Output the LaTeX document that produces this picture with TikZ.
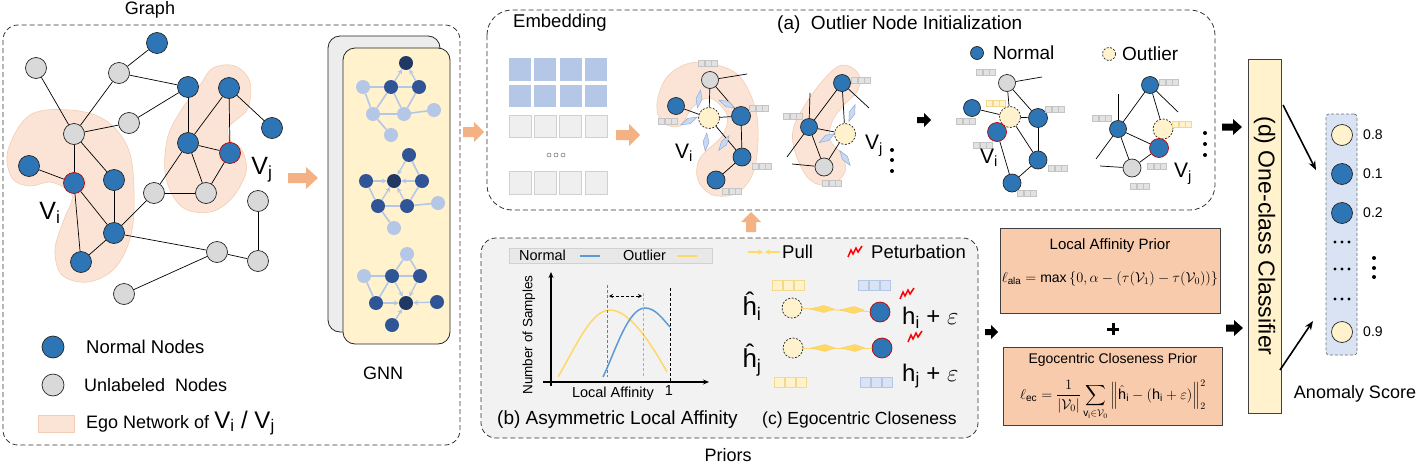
\documentclass[tikz,border=0pt]{standalone}
\usepackage{fontspec}
\setmainfont{Liberation Sans}
\usepackage{amsmath}
\usetikzlibrary{arrows.meta}
\newcommand\fsz[1]{\fontsize{#1}{#1}\selectfont}
\definecolor{nblue}{HTML}{2E75B6}
\definecolor{ngray}{HTML}{D9D9D9}
\definecolor{nyel}{HTML}{FFF2CC}
\definecolor{egoc}{HTML}{FBE4D5}
\definecolor{egoe}{HTML}{F3CDB3}
\definecolor{oarr}{HTML}{F4B183}
\definecolor{embb}{HTML}{B4C7E7}
\definecolor{embg}{HTML}{EFEFEF}
\definecolor{embge}{HTML}{D0D0D0}
\definecolor{glc}{HTML}{B4C7E7}
\definecolor{gdc}{HTML}{2F5597}
\definecolor{gkc}{HTML}{1F3864}
\definecolor{priorbg}{HTML}{F2F2F2}
\definecolor{formbg}{HTML}{F8CBAD}
\definecolor{scorebg}{HTML}{DAE3F3}
\definecolor{cblue}{HTML}{5B9BD5}
\definecolor{cyel}{HTML}{FFD966}
\definecolor{kitef}{HTML}{C9D9F0}
\definecolor{kitee}{HTML}{8FAADC}
\definecolor{redb}{HTML}{C00000}
\definecolor{tinyg}{HTML}{E2E2E2}
\definecolor{tinyge}{HTML}{C4C4C4}
\definecolor{tinyy}{HTML}{FFF2CC}
\definecolor{tinyye}{HTML}{F2D98C}
\definecolor{tinyb}{HTML}{DAE3F3}
\definecolor{tinybe}{HTML}{B4C7E7}
\newcommand\tinyemb[3]{\foreach \k in {0,1,2}{\filldraw[fill=#3, draw=#3e, line width=0.4pt] ({#1-10+\k*6.8},{#2-3}) rectangle ++(6,6);}}
\newcommand\bigemb[3]{\foreach \k in {0,1,2}{\filldraw[fill=#3, draw=#3e, line width=0.5pt] ({#1-16+\k*11},{#2-5}) rectangle ++(10,10);}}
\newcommand\kite[3]{\filldraw[fill=kitef, draw=kitee, line width=0.5pt, shift={(#1,#2)}, rotate=#3] (-9,0) -- (0,-3) -- (9,0) -- (0,3) -- cycle;}
\newcommand\ykite[2]{\filldraw[fill=cyel, draw=cyel!80!orange, line width=0.3pt, shift={(#1,#2)}] (-12,0) -- (2,-3.5) -- (12,0) -- (2,3.5) -- cycle;}
\newcommand\zz[2]{\draw[red, line width=1.5pt, shift={(#1,#2)}] (-7,4) -- (-4,-3) -- (-2,1) -- (1,-5) -- (3,-1) -- (7,-7);}
\begin{document}
\begin{tikzpicture}[x=1pt, y=-1pt,
  nd/.style={circle, inner sep=0pt, line width=0.7pt, draw=black!85},
  bn/.style={nd, fill=nblue, minimum size=#1}, bn/.default=21pt,
  gn/.style={nd, fill=ngray, minimum size=#1}, gn/.default=21pt,
  rn/.style={nd, fill=nblue, draw=redb, minimum size=#1}, rn/.default=21pt,
  yn/.style={nd, fill=nyel, dash pattern=on 2pt off 1.5pt, minimum size=#1}, yn/.default=20pt,
  lnk/.style={line width=0.7pt, black},
  gl/.style={circle, inner sep=0pt, minimum size=14pt, fill=glc},
  gd/.style={gl, fill=gdc},
  gk/.style={gl, fill=gkc},
  gline/.style={draw=glc, line width=1.6pt},
  garr/.style={draw=glc, line width=1.3pt, -{Stealth[length=5pt,width=5pt]}},
  dbox/.style={draw=black!80, dash pattern=on 5pt off 3pt, line width=0.8pt},
  txt/.style={inner sep=0pt, font=\fsz{#1}},
  blob/.style={fill=egoc, draw=egoe, line width=0.6pt},
  karr/.style={line width=1.6pt, -{Stealth[length=9pt,width=7pt]}},
]
\useasboundingbox (0,0) rectangle (1418,466);

% ================= Left: Graph =================
\node[txt=18] (tgraph) at (150,10) {Graph};
\draw[dbox, rounded corners=15pt] (3,25) rectangle (460,445);

\filldraw[blob] plot[smooth cycle, tension=0.6] coordinates {(8,150) (30,115) (70,110) (105,120) (128,148) (134,190) (131,235) (115,268) (88,282) (62,275) (55,250) (63,222) (72,200) (68,190) (50,182) (30,186) (12,178)};
\filldraw[blob] plot[smooth cycle, tension=0.6] coordinates {(213,68) (235,66) (250,82) (248,108) (236,120) (228,128) (230,140) (242,150) (246,172) (232,198) (210,212) (182,207) (166,178) (167,140) (180,112) (200,85)};

\node[bn] (b1) at (157,43) {};
\node[gn] (g1) at (36,68) {};
\node[gn] (g2) at (119,73) {};
\node[bn] (b2) at (188,87) {};
\node[bn] (b3) at (229,88) {};
\node[bn] (b4) at (272,128) {};
\node[gn] (g3) at (129,123) {};
\node[gn] (g4) at (74,134) {};
\node[bn] (b5) at (188,143) {};
\node[rn] (rj) at (230,153) {};
\node[bn] (b6) at (29,166) {};
\node[rn] (ri) at (74,183) {};
\node[bn] (b7) at (114,180) {};
\node[gn] (g5) at (154,193) {};
\node[gn] (g6) at (206,193) {};
\node[gn] (g7) at (258,201) {};
\node[bn] (b8) at (114,233) {};
\node[gn] (g8) at (217,252) {};
\node[gn] (g9) at (258,261) {};
\node[bn] (b9) at (81,262) {};
\node[gn] (g10) at (124,294) {};
\foreach \a/\b in {b1/g2, g1/g4, g2/g4, g2/b2, g3/b2, g4/g3, g4/ri, g4/b7, b6/ri, ri/b8, ri/b9, b7/b8, b8/b9, b8/g5, b8/g8, g5/b5, g5/g6, b2/b5, b3/b5, b3/rj, b3/b4, b5/rj, b5/g6, rj/g6, g7/g9, g8/g9, g8/g10}
  \draw[lnk] (\a) -- (\b);
\node[txt=25] (lvi) at (50,213) {V\textsubscript{i}};
\node[txt=25] (lvj) at (262,170) {V\textsubscript{j}};

\node[bn=22pt] (legb) at (53,347) {};
\node[txt=18.5, anchor=west] (legbt) at (86,347) {Normal Nodes};
\node[gn=22pt] (legg) at (53,385) {};
\node[txt=18, anchor=west] (leggt) at (84,385) {Unlabeled~ Nodes};
\node[blob, minimum width=36pt, minimum height=17pt, inner sep=0pt] (lege) at (56,423.5) {};
\node[txt=18, anchor=west] (leget) at (86,423) {Ego Network of {\fsz{24}V\textsubscript{i} / V\textsubscript{j}}};

\fill[oarr] (288,173) -- (306,173) -- (306,167) -- (318,178) -- (306,189) -- (306,183) -- (288,183) -- cycle;

% ================= GNN =================
\filldraw[fill=black!7, draw=black!85, line width=0.8pt, rounded corners=12pt] (328,36) rectangle (440,332);
\filldraw[fill=nyel, draw=black!85, line width=0.8pt, rounded corners=12pt] (343,48) rectangle (450,344);
\node[txt=18] (tgnn) at (383,373) {GNN};

\node[gk] (n11) at (406,63) {};
\node[gd] (n12) at (391,87) {};
\node[gd] (n13) at (419,87) {};
\node[gl] (n14) at (363,87) {};
\node[gl] (n15) at (373,114) {};
\node[gl] (n16) at (404,114) {};
\node[gl] (n17) at (434,110) {};
\node[gl] (n18) at (391,135) {};
\foreach \a/\b in {n14/n12, n12/n13, n14/n15, n12/n15, n12/n16, n13/n16, n16/n17, n15/n16, n15/n18}
  \draw[gline] (\a) -- (\b);
\foreach \a in {n12, n13} \draw[garr] (\a) -- (n11);

\node[gd] (n21) at (409,155) {};
\node[gd] (n22) at (366,181) {};
\node[gk] (n23) at (394,181) {};
\node[gd] (n24) at (422,181) {};
\node[gd] (n25) at (378,206) {};
\node[gd] (n26) at (407,206) {};
\node[gl] (n27) at (438,203) {};
\node[gl] (n28) at (394,228) {};
\foreach \a/\b in {n22/n25, n25/n26, n26/n27, n24/n26, n21/n24, n25/n28}
  \draw[gline] (\a) -- (\b);
\foreach \a in {n21, n22, n24, n25, n26} \draw[garr] (\a) -- (n23);

\node[gl] (n31) at (407,254) {};
\node[gl] (n32) at (364,276) {};
\node[gd] (n33) at (392,276) {};
\node[gd] (n34) at (420,276) {};
\node[gd] (n35) at (376,303) {};
\node[gk] (n36) at (406,303) {};
\node[gd] (n37) at (437,302) {};
\node[gd] (n38) at (392,325) {};
\foreach \a/\b in {n31/n33, n31/n34, n32/n33, n33/n34, n32/n35, n33/n35}
  \draw[gline] (\a) -- (\b);
\foreach \a in {n33, n34, n35, n37, n38} \draw[garr] (\a) -- (n36);

\fill[oarr] (463,127) -- (474,127) -- (474,122) -- (484,132) -- (474,142) -- (474,137) -- (463,137) -- cycle;

% ================= (a) Outlier node initialization =================
\draw[dbox, rounded corners=25pt] (487,10) rectangle (1215,210);
\node[txt=18.5, anchor=west] (temb) at (513,23) {Embedding};
\node[txt=19, anchor=west] (ta) at (777,25) {(a)~ Outlier Node Initialization};

\foreach \cx in {520,545.3,570.6,596} {
  \fill[embb] (\cx-11,58) rectangle (\cx+11,81);
  \fill[embb] (\cx-11,85) rectangle (\cx+11,107);
  \filldraw[fill=embg, draw=embge, line width=0.5pt] (\cx-11,115) rectangle (\cx+11,137);
  \filldraw[fill=embg, draw=embge, line width=0.5pt] (\cx-11,171) rectangle (\cx+11,194);
}
\foreach \dx in {549,556,563} \draw[black!60, line width=0.5pt] (\dx,155) circle (2);

\fill[oarr] (616,130) -- (629,130) -- (629,124) -- (640,135) -- (629,146) -- (629,140) -- (616,140) -- cycle;

% ego Vi in (a)
\filldraw[blob] plot[smooth cycle, tension=0.6] coordinates {(657,103) (667,77) (690,63) (717,65) (740,77) (755,107) (758,140) (753,173) (737,193) (713,195) (698,180) (700,158) (722,136) (727,115) (710,98) (692,108) (680,126) (662,122)};
\node[gn=17pt] (a1g) at (710,80) {};
\node[bn=17pt] (a1l) at (676,106) {};
\node[yn=21pt] (a1y) at (709,118) {};
\node[bn=19pt] (a1b) at (741,116) {};
\node[bn=18pt] (a1c) at (742,157) {};
\node[bn=18pt] (a1d) at (716,180) {};
\coordinate (a1f) at (747,74);
\foreach \a/\b in {a1g/a1f, a1g/a1y, a1g/a1b, a1l/a1y, a1y/a1b, a1y/a1c, a1b/a1c, a1c/a1d}
  \draw[lnk] (\a) -- (\b);
\kite{699}{99}{80}
\kite{727}{104}{-25}
\kite{689}{121}{25}
\kite{706}{142}{85}
\kite{724}{143}{55}
\tinyemb{708}{63}{tinyg}
\tinyemb{668}{121}{tinyg}
\tinyemb{759}{108}{tinyg}
\tinyemb{762}{166}{tinyg}
\tinyemb{732}{191}{tinyg}
\node[txt=21] (avi) at (684,153) {V\textsubscript{i}};

% ego Vj in (a)
\filldraw[blob] plot[smooth cycle, tension=0.6] coordinates {(842,65) (858,73) (858,90) (843,106) (832,122) (830,140) (842,155) (845,172) (830,185) (810,180) (796,155) (793,130) (805,105) (825,78)};
\node[bn=17pt] (a2t) at (842,83) {};
\node[bn=17pt] (a2l) at (809,127) {};
\node[yn=21pt] (a2y) at (845,134) {};
\node[gn=18pt] (a2g) at (824,167) {};
\coordinate (a2f1) at (869,108);
\coordinate (a2f2) at (810,93);
\coordinate (a2f3) at (787,157);
\coordinate (a2f4) at (792,164);
\foreach \a/\b in {a2t/a2l, a2t/a2y, a2t/a2f1, a2l/a2f2, a2l/a2f3, a2l/a2y, a2l/a2g, a2g/a2f4, a2g/a2y}
  \draw[lnk] (\a) -- (\b);
\kite{852}{113}{70}
\kite{827}{138}{30}
\kite{845}{158}{-55}
\tinyemb{861}{80}{tinyg}
\tinyemb{793}{116}{tinyg}
\tinyemb{832}{183}{tinyg}
\node[txt=21] (avj) at (874,146) {V\textsubscript{j}};
\foreach \dy in {150,160,171} \fill (892,\dy) circle (2);

\fill (917,117) -- (924,117) -- (924,113) -- (931,120) -- (924,127) -- (924,123) -- (917,123) -- cycle;

% legend (a)
\node[bn=13pt] (lna) at (977,53) {};
\node[txt=19, anchor=west] (lnat) at (993,53) {Normal};
\node[yn=13pt] (loa) at (1109,54) {};
\node[txt=19, anchor=west] (loat) at (1122,54) {Outlier};

% final Vi
\node[gn=17pt] (f1g) at (1007,83) {};
\node[bn=17pt] (f1l) at (972,108) {};
\node[yn=21pt] (f1y) at (1010,117) {};
\node[rn=19pt] (f1r) at (997,132) {};
\node[bn=19pt] (f1b) at (1038,118) {};
\node[bn=18pt] (f1c) at (1038,160) {};
\node[bn=18pt] (f1d) at (1012,183) {};
\coordinate (f1f) at (1042,77);
\foreach \a/\b in {f1g/f1f, f1g/f1y, f1g/f1b, f1l/f1y, f1y/f1b, f1y/f1c, f1b/f1c, f1c/f1d, f1r/f1d}
  \draw[lnk] (\a) -- (\b);
\tinyemb{986}{72}{tinyg}
\tinyemb{996}{103}{tinyy}
\tinyemb{966}{121}{tinyg}
\tinyemb{1055}{109}{tinyg}
\tinyemb{983}{145}{tinyg}
\tinyemb{1058}{168}{tinyg}
\tinyemb{1027}{193}{tinyg}
\node[txt=21] (fvi) at (989,158) {V\textsubscript{i}};

% final Vj
\node[bn=17pt] (f2t) at (1150,85) {};
\node[bn=17pt] (f2l) at (1118,129) {};
\node[yn=20pt] (f2y) at (1163,129) {};
\node[rn=19pt] (f2r) at (1159,148) {};
\node[gn=18pt] (f2g) at (1132,168) {};
\coordinate (f2f1) at (1178,112);
\coordinate (f2f2) at (1118,94);
\coordinate (f2f3) at (1096,159);
\coordinate (f2f4) at (1100,166);
\foreach \a/\b in {f2t/f2l, f2t/f2y, f2t/f2f1, f2l/f2f2, f2l/f2f3, f2l/f2r, f2l/f2g, f2g/f2f4, f2g/f2r}
  \draw[lnk] (\a) -- (\b);
\tinyemb{1169}{82}{tinyg}
\tinyemb{1102}{118}{tinyg}
\tinyemb{1182}{124}{tinyy}
\tinyemb{1157}{166}{tinyg}
\tinyemb{1140}{186}{tinyg}
\node[txt=21] (fvj) at (1183,174) {V\textsubscript{j}};
\foreach \dy in {133,144,155} \fill (1205,\dy) circle (2);

% ================= Priors =================
\fill[oarr] (746,232) -- (746,222) -- (741,222) -- (751,212) -- (761,222) -- (756,222) -- (756,232) -- cycle;
\filldraw[fill=priorbg, dbox, rounded corners=15pt] (481,238) rectangle (978,438);
\node[txt=18] (tpri) at (728,455) {Priors};

% (b)
\filldraw[fill=black!9, draw=black!18, line width=0.6pt] (509,248) rectangle (712,263);
\node[txt=14.5, anchor=west] (cbn) at (519,255.5) {Normal};
\draw[cblue, line width=1.5pt] (580,256) -- (600,256);
\node[txt=14.5, anchor=west] (cbo) at (623,255.5) {Outlier};
\draw[cyel, line width=1.5pt] (677,256) -- (697,256);
\draw[line width=1.3pt, -{Stealth[length=6pt,width=5pt]}] (543,382) -- (709,382);
\draw[line width=1.3pt, -{Stealth[length=6pt,width=5pt]}] (551,386) -- (551,272);
\draw[cyel, line width=1.5pt] (558,377) .. controls (578,342) and (592,310) .. (610,310) .. controls (628,310) and (648,338) .. (667,372);
\draw[cblue, line width=1.5pt] (603,377) .. controls (615,352) and (628,308) .. (645,308) .. controls (655,308) and (662,318) .. (670,327);
\draw[orange!80!black, dash pattern=on 3pt off 2pt, line width=0.6pt] (607,285) -- (607,377);
\draw[cblue!70, dash pattern=on 3pt off 2pt, line width=0.6pt] (643,293) -- (643,377);
\draw[black, dash pattern=on 3pt off 2pt, line width=0.6pt] (670,288) -- (670,382);
\draw[dash pattern=on 3pt off 2pt, line width=0.7pt, {Stealth[length=4pt,width=4pt]}-{Stealth[length=4pt,width=4pt]}] (609,296) -- (642,296);
\node[txt=13.5, rotate=90] (cny) at (529,335) {Number of Samples};
\node[txt=14.5] (cnx) at (613,394) {Local Affinity};
\node[txt=14.5] (cn1) at (669,391) {1};
\node[txt=19, anchor=west] (tb) at (497,420) {(b) Asymmetric Local Affinity};

% (c)
\draw[cyel, line width=1.2pt, -{Stealth[length=5pt,width=5pt]}] (748,252) -- (763,252);
\draw[cyel, line width=1.2pt, -{Stealth[length=5pt,width=5pt]}] (780,252) -- (765,252);
\node[txt=18.5, anchor=west] (tpull) at (782,252) {Pull};
\zz{855}{253}
\node[txt=18.5, anchor=west] (tpert) at (871,252) {Peturbation};

\node[txt=26] (hhi) at (752,306) {ĥ\textsubscript{i}};
\node[yn=20pt] (cyi) at (792,308) {};
\node[rn=20pt] (cbi) at (880,312) {};
\draw[cyel, line width=1pt] (cyi) -- (cbi);
\ykite{822}{309}
\ykite{852}{310}
\bigemb{788}{285}{tinyy}
\bigemb{874}{285}{tinyb}
\zz{907}{295}
\node[txt=24, anchor=west] (thi) at (902,318) {h\textsubscript{i} + $\varepsilon$};

\node[txt=26] (hhj) at (752,360) {ĥ\textsubscript{j}};
\node[yn=20pt] (cyj) at (793,348) {};
\node[rn=20pt] (cbj) at (882,348) {};
\draw[cyel, line width=1pt] (cyj) -- (cbj);
\ykite{823}{348}
\ykite{853}{348}
\bigemb{790}{382}{tinyy}
\bigemb{876}{382}{tinyb}
\zz{915}{338}
\node[txt=24, anchor=west] (thj) at (902,376) {h\textsubscript{j} + $\varepsilon$};
\node[txt=17.5, anchor=west] (tc) at (762,420) {(c) Egocentric Closeness};

\fill (985,329) -- (991,329) -- (991,325) -- (998,332) -- (991,339) -- (991,335) -- (985,335) -- cycle;

% ================= formulas =================
\filldraw[fill=formbg, draw=black!75, line width=0.8pt] (1000,228) rectangle (1220,313);
\node[txt=15] (tf1) at (1110,246) {Local Affinity Prior};
\node[txt=14] (ff1) at (1110,279) {$\ell_{\mathrm{ala}} = \max\left\{0, \alpha - \left(\tau(\mathcal{V}_1) - \tau(\mathcal{V}_0)\right)\right\}$};
\fill (1107,327.5) rectangle (1119,330.5);
\fill (1111.5,323) rectangle (1114.5,335);
\filldraw[fill=formbg, draw=black!75, line width=0.8pt] (1003,347) rectangle (1222,425);
\node[txt=14] (tf2) at (1113,360) {Egocentric Closeness Prior};
\node[txt=14.5] (ff2) at (1113,400) {$\ell_{\mathrm{ec}} = \dfrac{1}{|\mathcal{V}_0|}\displaystyle\sum_{\mathrm{v_i}\in\mathcal{V}_0}\left\|\hat{\mathrm{h}}_{\mathrm{i}} - (\mathrm{h}_{\mathrm{i}}+\varepsilon)\right\|_2^2$};

% ================= classifier =================
\fill (1222,123.5) -- (1233,123.5) -- (1233,119) -- (1242,127) -- (1233,135) -- (1233,130.5) -- (1222,130.5) -- cycle;
\fill (1226,324.5) -- (1234,324.5) -- (1234,320) -- (1243,328) -- (1234,336) -- (1234,331.5) -- (1226,331.5) -- cycle;
\node[draw=black!75, fill=nyel, line width=0.8pt, minimum width=33pt, minimum height=354pt, inner sep=0pt] (clf) at (1264.5,236) {};
\node[txt=23, rotate=-90] (clft) at (1264.5,236) {(d) One-class Classifier};

\node[draw=black!55, dash pattern=on 3pt off 2pt, fill=scorebg, rounded corners=3pt, minimum width=31pt, minimum height=241pt, inner sep=0pt, line width=0.7pt] (sbox) at (1341.5,234.5) {};
\coordinate (c1s) at (1283,105);
\coordinate (c1e) at (1316,170);
\coordinate (c2s) at (1280,370);
\coordinate (c2e) at (1313,321);
\draw[karr] (c1s) -- (c1e);
\draw[karr] (c2s) -- (c2e);
\node[nd, fill=nyel, minimum size=21pt] (s1) at (1342,135) {};
\node[bn] (s2) at (1342,174) {};
\node[bn] (s3) at (1342,213) {};
\node[nd, fill=nyel, minimum size=21pt] (s4) at (1342,332) {};
\foreach \dy in {242,269,299} \foreach \dx in {1335,1342,1349} \fill (\dx,\dy) circle (1.6);
\foreach \dy in {258,268,277} \fill (1374,\dy) circle (2);
\node[txt=14, anchor=west] (v1) at (1363,135) {0.8};
\node[txt=14, anchor=west] (v2) at (1363,174) {0.1};
\node[txt=14, anchor=west] (v3) at (1363,213) {0.2};
\node[txt=14, anchor=west] (v4) at (1363,332) {0.9};
\node[txt=18] (tas) at (1355,394) {Anomaly Score};
\end{tikzpicture}
\end{document}
